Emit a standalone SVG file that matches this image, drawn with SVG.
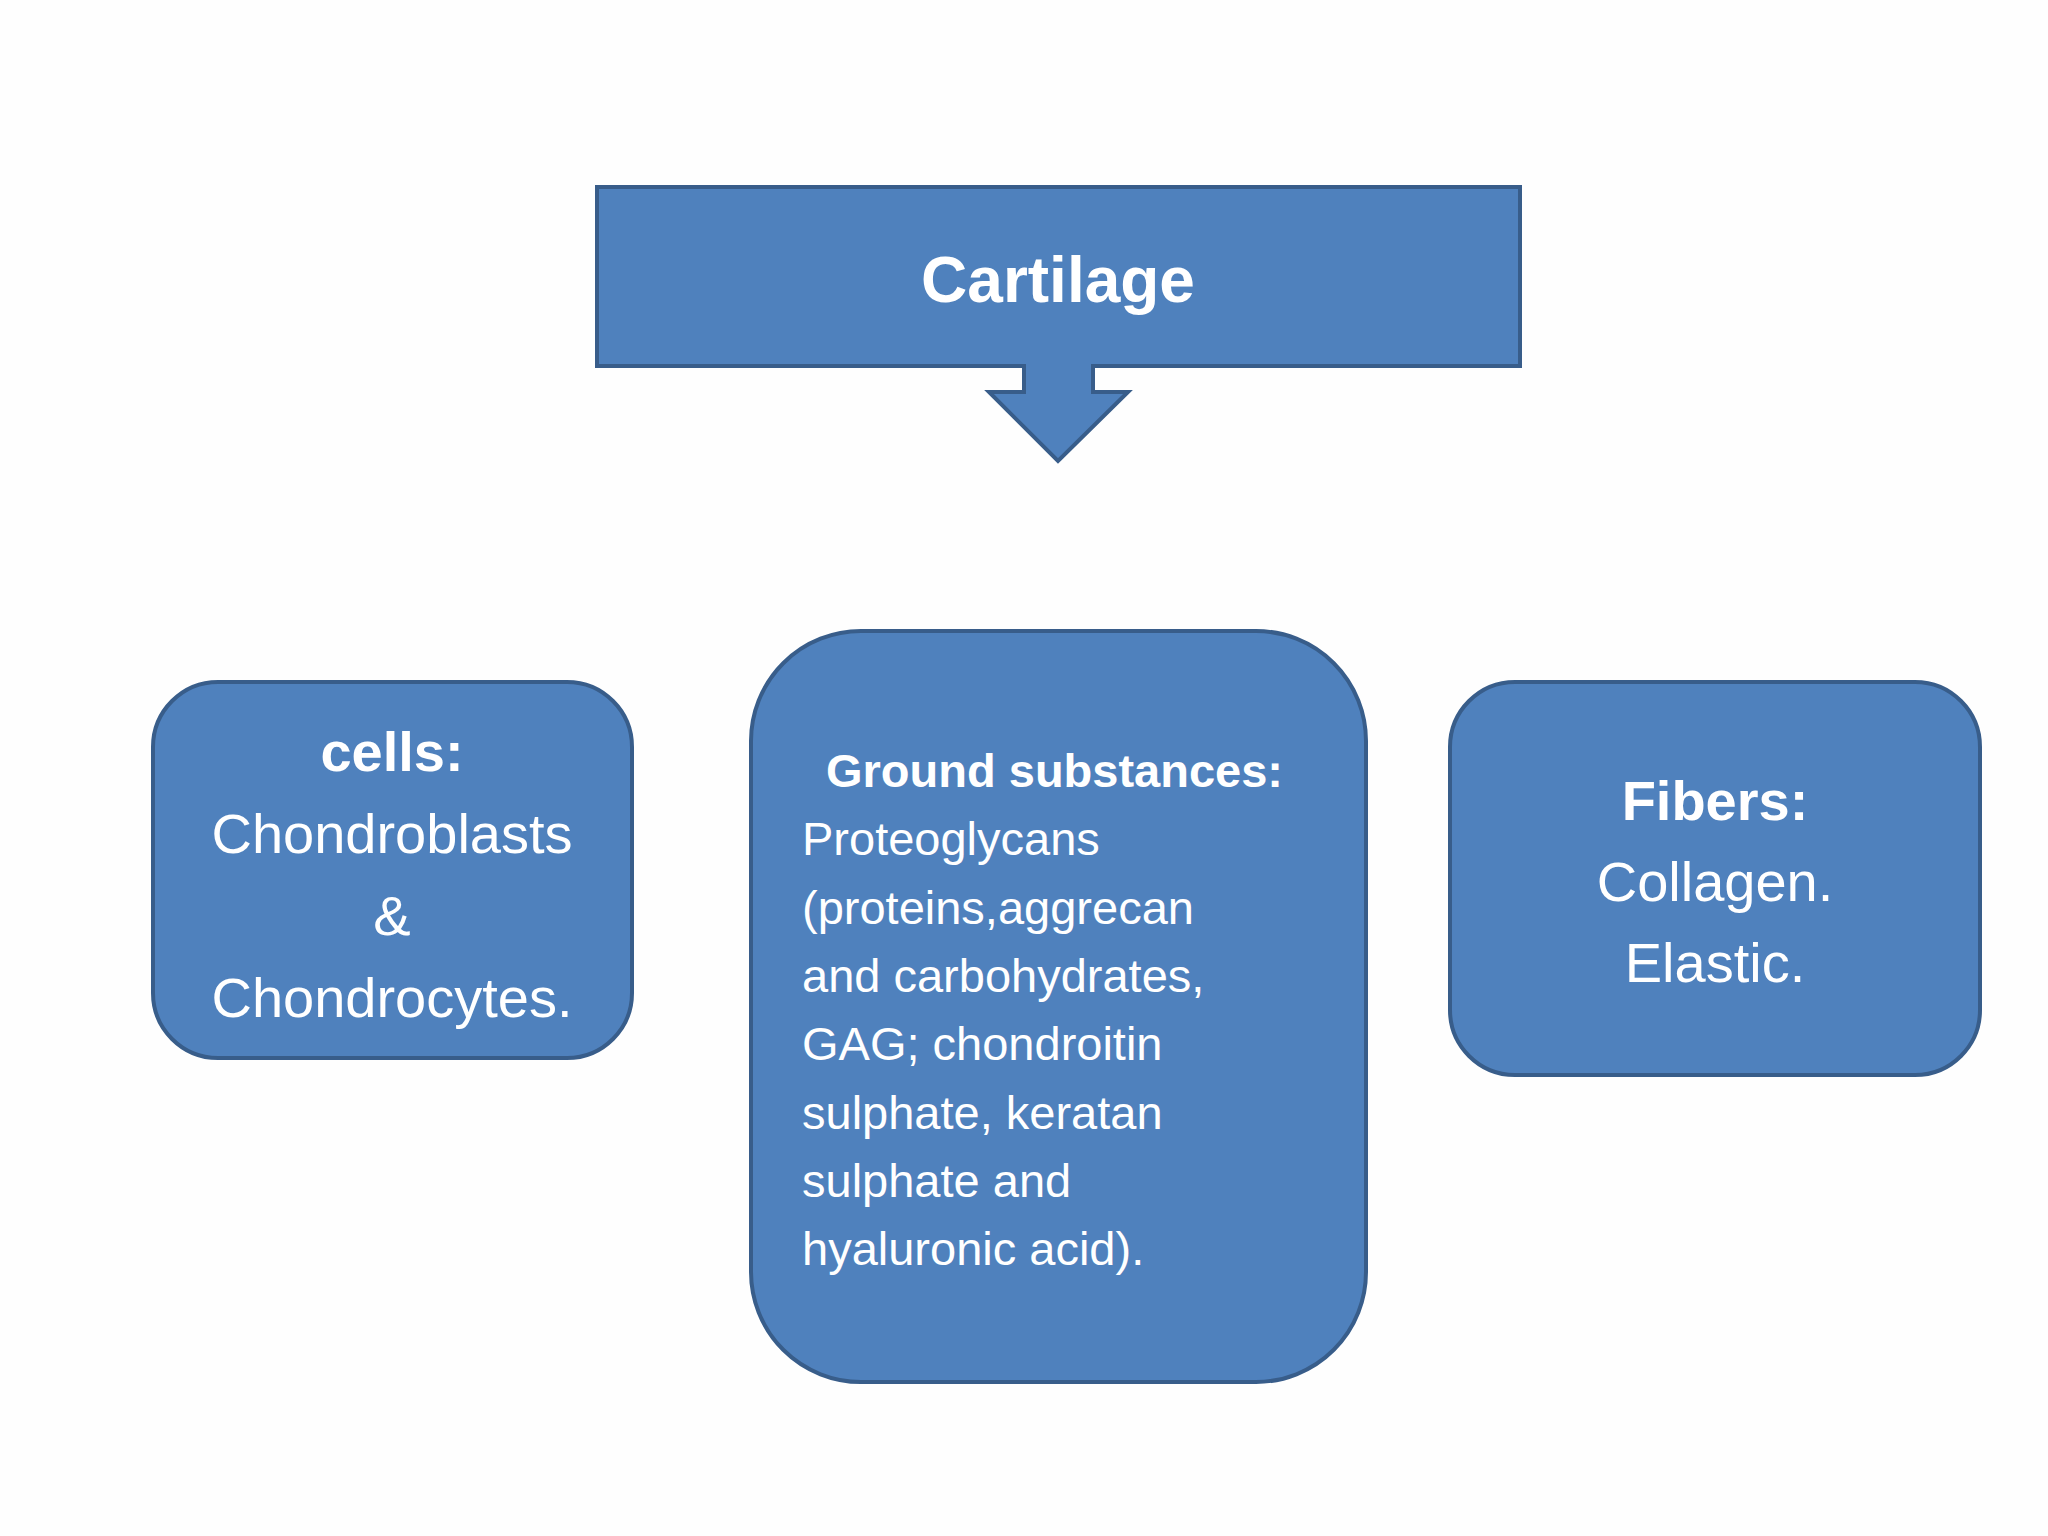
<svg xmlns="http://www.w3.org/2000/svg" width="2048" height="1536" viewBox="0 0 2048 1536">
<style>
.box{fill:#4f81bd;stroke:#385d8a;stroke-width:4}
text{fill:#fff;font-family:"Liberation Sans",Arial,sans-serif}
.c{text-anchor:middle}
.b{font-weight:bold}
</style>
<rect width="2048" height="1536" fill="#fefefe"/>
<g id="cartilage">
<path class="box" d="M597 187H1520V366H1093V392H1128L1058 461L989 392H1024V366H597Z"/>
<text class="c b" x="1058" y="302" font-size="64">Cartilage</text>
</g>
<g id="cells">
<rect class="box" x="153" y="682" width="479" height="376" rx="65"/>
<text class="c" x="392" font-size="56"><tspan class="b" x="392" y="771">cells:</tspan><tspan x="392" y="853">Chondroblasts</tspan><tspan x="392" y="935">&amp;</tspan><tspan x="392" y="1017">Chondrocytes.</tspan></text>
</g>
<g id="ground">
<rect class="box" x="751" y="631" width="615" height="751" rx="110"/>
<text font-size="47"><tspan class="b" x="826" y="787">Ground substances:</tspan><tspan x="802" y="855">Proteoglycans</tspan><tspan x="802" y="924">(proteins,aggrecan</tspan><tspan x="802" y="992">and carbohydrates,</tspan><tspan x="802" y="1060">GAG; chondroitin</tspan><tspan x="802" y="1129">sulphate, keratan</tspan><tspan x="802" y="1197">sulphate and</tspan><tspan x="802" y="1265">hyaluronic acid).</tspan></text>
</g>
<g id="fibers">
<rect class="box" x="1450" y="682" width="530" height="393" rx="65"/>
<text class="c" font-size="56"><tspan class="b" x="1715" y="820">Fibers:</tspan><tspan x="1715" y="901">Collagen.</tspan><tspan x="1715" y="982">Elastic.</tspan></text>
</g>
<g id="connectors"></g>
</svg>
